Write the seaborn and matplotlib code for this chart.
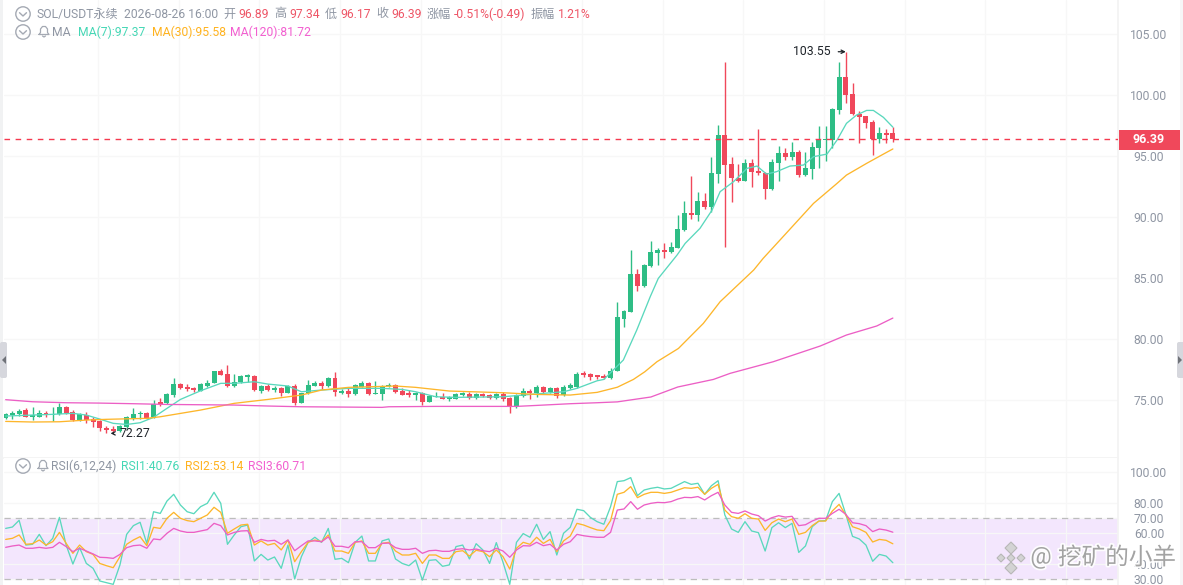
import numpy as np
import seaborn as sns
from matplotlib import pyplot as plt
from matplotlib import patheffects as pe
from matplotlib.patches import Circle, Polygon, Rectangle, FancyBboxPatch

# candles
opens = [73.50,73.77,73.83,74.18,73.63,73.63,73.91,73.74,73.83,74.45,74.02,73.36,73.77,73.42,73.31,72.68,72.60,72.46,72.76,73.50,73.83,73.96,73.58,74.84,74.73,75.44,76.31,76.09,75.98,75.76,76.15,76.42,77.38,77.13,76.15,76.50,76.91,76.99,75.76,76.15,75.82,75.96,75.60,76.15,74.78,
         75.55,76.15,76.39,76.15,76.80,75.57,75.74,75.49,76.09,76.39,75.52,75.49,76.15,76.23,75.74,75.60,75.41,75.57,74.84,75.25,75.27,75.08,75.08,75.41,75.49,75.16,75.49,75.41,75.16,75.49,75.19,74.51,75.33,75.71,75.55,76.07,75.66,75.98,75.38,75.98,76.09,77.19,77.13,77.05,
         76.97,76.80,77.40,81.67,82.24,85.33,84.34,85.98,87.08,87.30,87.13,87.49,88.93,90.33,90.19,91.28,90.85,93.52,96.72,94.32,93.17,92.98,94.43,93.77,93.58,92.32,94.43,95.25,94.95,95.33,93.44,93.96,95.68,96.28,96.31,98.77,101.48,100.08,98.47,98.28,97.79,96.42,96.86,96.89]
highs = [73.91,74.13,74.24,74.37,74.40,74.18,74.13,74.40,74.78,74.51,74.18,73.91,74.04,73.63,73.36,72.90,72.87,72.95,73.69,74.32,74.13,74.04,75.00,75.14,75.55,76.78,76.42,76.31,76.09,76.42,76.64,77.40,77.54,77.84,77.13,77.08,77.13,77.08,76.20,76.31,76.15,76.09,76.26,76.31,75.60,
         76.64,76.53,76.56,76.91,77.27,75.90,75.98,76.28,76.58,76.45,76.56,76.20,76.39,76.31,75.98,75.82,75.66,75.63,75.38,75.68,75.60,75.36,75.55,75.68,75.68,75.55,75.60,75.49,75.55,75.63,75.27,75.49,75.96,75.87,76.20,76.12,76.04,76.07,76.23,76.39,77.29,77.38,77.19,77.05,
         77.10,77.60,83.03,82.38,87.30,85.74,86.15,88.03,87.43,87.90,87.92,90.14,91.28,93.36,92.08,91.99,94.95,97.51,102.70,94.95,94.34,94.75,94.73,97.19,93.72,94.73,95.82,95.63,96.15,95.49,95.36,96.17,97.49,97.46,98.91,102.70,103.55,101.01,98.72,98.28,97.95,97.40,97.19,97.34]
lows = [73.42,73.42,73.69,73.58,73.36,73.58,73.63,73.28,73.77,73.85,73.31,73.31,73.14,72.81,72.46,72.32,72.27,72.40,72.70,73.36,73.42,73.42,73.50,74.51,74.67,75.27,75.87,75.74,75.66,75.71,76.04,76.37,77.02,76.09,76.09,76.37,76.50,75.76,75.55,75.76,75.68,75.33,75.55,74.59,74.73,
        75.49,76.12,75.87,76.09,75.33,75.52,75.27,75.41,76.04,75.44,75.46,75.00,76.09,75.60,75.38,75.27,75.00,74.59,74.81,75.22,75.05,74.95,75.05,75.33,75.11,75.11,75.27,75.08,75.11,74.95,73.91,74.37,75.27,75.11,75.27,75.60,75.57,75.16,75.33,75.93,76.01,76.86,76.64,76.69,
        76.69,76.75,77.35,80.96,82.19,83.96,84.29,85.93,86.07,86.61,87.08,87.43,88.88,89.84,89.70,90.66,90.44,92.76,87.51,91.26,92.87,92.92,92.49,93.44,91.48,92.24,92.98,94.67,94.67,93.31,93.39,93.14,93.99,94.62,95.63,98.44,99.32,98.36,96.09,97.32,95.08,96.04,96.09,96.17]
closes = [73.83,73.96,74.13,73.63,73.77,73.96,73.74,73.83,74.45,73.91,73.36,73.83,73.36,73.22,72.68,72.54,72.46,72.87,73.61,73.85,73.96,73.47,74.70,74.67,75.49,76.31,75.96,75.93,75.82,76.31,76.42,77.38,77.08,76.15,76.50,76.99,77.05,75.82,76.12,75.82,75.96,75.55,76.15,74.73,75.55,
          76.23,76.39,76.15,76.80,75.68,75.74,75.49,76.23,76.39,75.49,75.57,76.09,76.26,75.66,75.41,75.41,75.57,74.84,75.33,75.33,75.08,75.27,75.49,75.57,75.16,75.49,75.33,75.19,75.49,75.08,74.51,75.41,75.71,75.55,76.07,75.66,75.98,75.33,76.07,76.23,77.13,77.05,76.91,76.91,
          76.80,77.40,81.78,82.30,85.33,84.34,86.07,87.10,87.30,87.16,87.54,89.02,90.33,90.19,91.28,90.85,93.61,96.72,94.26,93.22,92.98,94.43,93.72,93.61,92.32,94.51,95.25,94.95,95.33,93.44,93.99,95.74,96.31,96.39,98.85,101.48,100.03,98.47,98.22,97.73,96.42,96.89,96.72,96.39]

# moving averages, sampled along the candles
ma7_x = [0,4,7,10,12,14,16,18,20,22,24,26,29,32,34,37,39,42,44,47,51,56,59,61,64,67,74,77,80,83,85,88,89,91.9,93.9,95.9,97.1,99.9,101.1,103.3,105.1,106.3,108.3,110.3,111.8,113.2,114.7,116.7,118.7,120.2,122.2,123.7,125.1,126.6,128.1,129.1,130.6,132]
ma7_y = [73.69,73.77,73.83,73.91,73.77,73.44,73.09,73.00,73.14,73.58,74.32,75.05,75.76,76.37,76.37,76.50,76.31,76.15,75.68,75.82,75.96,75.96,75.87,75.68,75.27,75.22,75.27,75.41,75.55,75.68,75.96,76.58,76.69,78.28,80.74,83.47,84.97,86.89,87.84,89.07,90.57,92.08,92.90,93.99,94.18,93.52,93.72,94.18,94.26,94.95,95.16,96.31,97.68,98.36,98.74,98.74,98.17,97.37]
ma30_x = [0,4,8,12,15,21,23,29,34,39,44,47,51,58,61,66,74,79,84,88,91,93.4,95.1,96.9,100.1,103.8,106.3,111.3,112.7,115.2,120.2,123.7,125.1,128.1,130.6,132]
ma30_y = [73.25,73.20,73.22,73.36,73.42,73.50,73.63,74.18,74.73,75.05,75.41,75.82,76.04,76.15,76.04,75.74,75.60,75.46,75.41,75.63,76.05,76.69,77.32,78.14,79.23,81.28,83.06,85.66,86.61,88.11,91.12,92.76,93.44,94.40,95.16,95.58]
ma120_x = [0,4,9,14,19,24,34,39,44,56,57,64,76,79,84,88,91,96,100,105.3,107.8,114.2,121.2,125.1,129.6,132]
ma120_y = [75.03,74.86,74.78,74.75,74.70,74.64,74.59,74.51,74.45,74.40,74.45,74.48,74.48,74.56,74.70,74.78,74.85,75.25,76.07,76.69,77.19,78.14,79.43,80.33,81.07,81.72]

rsi1 = [63.2,64.1,68.5,52.3,52.8,59.3,51.9,56.7,70.4,52.3,39.9,50.6,40.3,37.1,28.8,27.7,26.6,39.3,59.3,65.0,67.2,53.4,74.1,73.0,81.1,85.5,78.5,74.1,72.8,77.4,79.6,86.8,79.6,52.8,58.9,64.3,65.4,41.9,46.2,42.5,44.5,37.1,52.3,30.1,44.7,54.1,57.4,54.1,63.2,43.0,43.6,40.8,54.1,58.2,41.9,41.9,55.0,56.3,43.2,
        40.3,38.8,42.5,29.4,42.3,42.7,38.4,39.3,51.3,52.3,43.2,53.2,49.1,40.3,53.9,41.0,26.6,54.1,59.8,57.4,65.9,56.0,61.1,45.8,60.0,63.9,75.7,74.8,70.4,67.6,65.9,77.4,93.8,94.4,96.4,84.6,88.3,89.4,90.1,89.0,89.4,91.6,93.8,92.0,92.7,85.5,91.1,94.4,72.0,62.8,60.6,67.6,61.5,60.4,48.4,63.7,66.9,
        63.7,66.5,47.5,51.7,64.3,68.0,68.3,80.7,86.1,72.4,58.0,56.3,52.3,41.7,46.2,45.1,40.76]
rsi2 = [56.0,56.7,58.9,52.8,53.2,55.6,52.3,54.5,60.6,53.4,46.9,52.3,48.0,46.2,40.3,38.8,37.5,44.7,52.8,55.6,57.8,51.9,63.9,63.2,69.8,73.7,69.8,68.3,67.6,69.8,72.0,77.0,73.7,60.0,62.8,65.4,65.9,52.3,55.0,52.3,53.4,49.1,55.6,41.4,48.0,54.1,55.6,54.5,58.9,48.4,48.4,46.9,54.1,55.0,46.9,46.9,53.4,54.1,48.4,
        45.8,45.8,46.9,40.3,45.8,45.8,43.6,43.6,48.0,48.6,45.1,48.9,48.0,44.7,49.1,44.7,36.6,50.2,54.1,52.8,57.4,53.4,56.0,48.0,55.0,58.2,66.5,65.4,63.7,62.2,61.7,68.3,85.5,86.8,90.5,83.3,85.5,86.8,86.8,86.1,86.8,88.3,89.8,89.4,90.1,85.5,89.4,92.0,75.2,70.9,69.8,72.8,69.8,69.3,61.9,66.9,69.3,
        67.6,69.3,59.3,60.6,65.0,68.0,68.0,74.6,78.9,72.0,64.3,62.8,60.6,54.3,56.0,55.4,53.14]
rsi3 = [50.8,51.7,52.3,50.2,50.2,50.8,50.2,50.8,54.1,51.3,48.0,50.2,48.4,46.5,44.3,44.1,43.6,46.2,50.6,51.9,52.3,50.2,56.3,55.8,60.0,63.2,61.5,60.6,60.6,61.5,62.4,66.5,65.0,58.9,60.6,61.5,61.7,54.1,56.0,55.0,55.4,52.8,55.6,48.6,51.9,55.0,55.0,54.5,57.6,51.5,51.5,50.6,54.5,54.5,50.6,50.6,53.4,53.6,50.6,
        49.5,49.5,50.2,46.9,48.6,48.9,48.2,48.2,49.5,49.9,49.1,49.7,48.6,48.0,50.2,48.4,44.3,49.1,51.9,51.7,54.1,51.9,52.8,49.1,52.8,54.5,59.3,58.4,57.8,57.4,57.4,60.6,75.2,75.9,80.7,75.7,78.5,79.6,80.2,80.0,80.7,82.4,83.5,83.3,84.0,81.8,84.6,86.8,78.5,73.7,73.0,74.6,72.6,71.5,68.0,70.2,71.5,
        70.6,71.1,65.0,65.6,68.0,69.8,69.8,73.0,75.7,72.4,66.9,66.3,65.0,61.1,62.8,62.1,60.71]

price_ticks = [75, 80, 85, 90, 95, 100, 105]
rsi_ticks = [30, 40, 60, 70, 80, 100]
time_grid = [13.75, 25.75, 37.75, 49.75, 61.75, 73.75, 85.75, 97.75, 109.75, 121.75, 133.75, 145.75, 157.75]

GREEN = '#2ebd85'
RED = '#f0485b'
TEAL = '#5ad8bd'
YELLOW = '#fdb62b'
PINK = '#ec5fc5'
GREY = '#8f96a3'
GRID = '#f7f7f7'

sns.set_theme(style='white')
plt.rcParams['font.family'] = ['Roboto', 'Noto Sans CJK SC', 'DejaVu Sans']

fig = plt.figure(figsize=(11.83, 5.85), dpi=100, facecolor='white')
ax = fig.add_axes([4/1183, 127/585, 1114/1183, 458/585])
ax2 = fig.add_axes([4/1183, 0, 1114/1183, 127/585])

# candles
xs = np.arange(len(closes))
o, h, l, c = map(np.array, (opens, highs, lows, closes))
cols = np.where(c >= o, GREEN, RED)
ax.vlines(xs, l, h, colors=cols, lw=1.0, zorder=2)
ax.bar(xs, np.abs(c - o), bottom=np.minimum(o, c), width=0.74, color=cols, lw=0, zorder=3)

sns.lineplot(x=ma7_x, y=ma7_y, color=TEAL, lw=0.95, ax=ax, zorder=4)
sns.lineplot(x=ma30_x, y=ma30_y, color=YELLOW, lw=0.95, ax=ax, zorder=4)
sns.lineplot(x=ma120_x, y=ma120_y, color=PINK, lw=0.95, ax=ax, zorder=4)

ax.axhline(closes[-1], color='#f5394f', lw=1.0, ls=(0, (4, 4)), zorder=5)

imax = int(np.argmax(highs))
imin = int(np.argmin(lows))
ax.annotate(f'{highs[imax]:.2f}', xy=(imax, highs[imax]), xytext=(-15, 0), textcoords='offset pixels',
            ha='right', va='center', fontsize=8.8, color='#1e2329',
            arrowprops=dict(arrowstyle='->', color='#1e2329', lw=0.9, shrinkA=3, shrinkB=0, mutation_scale=6))
ax.annotate(f'{lows[imin]:.2f}', xy=(imin - 0.4, lows[imin]), xytext=(9, 0), textcoords='offset pixels',
            ha='left', va='center', fontsize=8.8, color='#1e2329',
            arrowprops=dict(arrowstyle='->', color='#1e2329', lw=0.9, shrinkA=2, shrinkB=0, mutation_scale=6))

ax.set_ylim(70.25, 107.79)
ax.set_yticks(price_ticks)
ax.set_yticklabels([f'{v:.2f}' for v in price_ticks])

# rsi pane
ax2.axhspan(30, 70, color='#f3e6fd', lw=0, zorder=0)
ax2.axhline(70, color='#bdbdbd', lw=0.9, ls=(0, (5, 4)), zorder=1)
ax2.axhline(30, color='#bdbdbd', lw=0.9, ls=(0, (5, 4)), zorder=1)
sns.lineplot(x=xs, y=rsi1, color=TEAL, lw=0.95, ax=ax2, zorder=3)
sns.lineplot(x=xs, y=rsi2, color=YELLOW, lw=0.95, ax=ax2, zorder=4)
sns.lineplot(x=xs, y=rsi3, color=PINK, lw=0.95, ax=ax2, zorder=5)
ax2.set_ylim(26.18, 109.24)
ax2.set_yticks(rsi_ticks)
ax2.set_yticklabels([f'{v:.2f}' for v in rsi_ticks])

for a in (ax, ax2):
    a.set_xlim(-0.25, 165.5)
    a.set_xticks(time_grid)
    a.set_xticklabels([])
    a.set_xlabel('')
    a.set_ylabel('')
    a.yaxis.tick_right()
    a.grid(True, color=GRID, lw=0.9, zorder=0)
    a.set_axisbelow(True)
    a.tick_params(axis='x', length=0)
    a.tick_params(axis='y', length=0, pad=22.3, labelsize=8.7, labelcolor=GREY)
    for lab in a.get_yticklabels():
        lab.set_ha('center')
    for s in a.spines.values():
        s.set_visible(False)
    a.spines['right'].set_visible(True)
    a.spines['right'].set_color('#f3f3f3')
ax.spines['bottom'].set_visible(True)
ax.spines['bottom'].set_color('#f3f3f3')

# overlay in pixels for header, price tag, handles and watermark
ov = fig.add_axes([0, 0, 1, 1], zorder=10)
ov.set_xlim(0, 1183)
ov.set_ylim(585, 0)
ov.axis('off')
ov.patch.set_alpha(0)


def txt(x, y, s, color=GREY, size=8.7, **kw):
    ov.text(x, y, s, color=color, fontsize=size, va='center', ha=kw.pop('ha', 'left'), **kw)


def chevron_icon(x, y):
    ov.add_patch(Circle((x, y), 7.2, fill=False, ec='#a4a9b3', lw=1.0))
    ov.plot([x - 3.5, x, x + 3.5], [y - 1.3, y + 2, y - 1.3], color='#a4a9b3', lw=1.0)


def bell(x, y):
    ov.plot([x - 5, x - 3.5, x - 3.5, x - 1.5, x + 1.5, x + 3.5, x + 3.5, x + 5, x - 5],
            [y + 3.5, y + 1.5, y - 2, y - 4.5, y - 4.5, y - 2, y + 1.5, y + 3.5, y + 3.5], color='#a4a9b3', lw=0.9)
    ov.plot([x - 1.5, x, x + 1.5], [y + 5, y + 6, y + 5], color='#a4a9b3', lw=0.9)


chevron_icon(23, 14)
txt(37, 14, 'SOL/USDT永续')
txt(124, 14, '2026-08-26 16:00')
for x_lab, lab, x_val, val in [(223, '开', 238, '96.89'), (274, '高', 289, '97.34'), (325, '低', 340, '96.17'),
                               (376, '收', 391, '96.39'), (427, '涨幅', 454, '-0.51%(-0.49)'), (531, '振幅', 558, '1.21%')]:
    txt(x_lab, 14, lab)
    txt(x_val, 14, val, color='#ee5566')

chevron_icon(23, 32)
bell(44, 31)
txt(52, 32, 'MA')
txt(78, 32, 'MA(7):97.37', color='#45d7b5')
txt(152, 32, 'MA(30):95.58', color='#ffb31f')
txt(230, 32, 'MA(120):81.72', color='#f25fd0')

chevron_icon(23, 466)
bell(43, 465)
txt(51, 466, 'RSI(6,12,24)')
txt(121, 466, 'RSI1:40.76', color='#45d7b5')
txt(185, 466, 'RSI2:53.14', color='#ffb31f')
txt(248, 466, 'RSI3:60.71', color='#f25fd0')

# current price tag
ov.add_patch(Rectangle((1119, 130), 61, 20, color=RED, lw=0))
txt(1149, 139.5, f'{closes[-1]:.2f}', color='white', size=9, ha='center', fontweight='bold')

# side strip and handles
ov.add_patch(Rectangle((0, 0), 3.5, 585, color='#f1f2f3', lw=0))
ov.add_patch(Rectangle((1180, 0), 3, 585, color='#f6f6f7', lw=0))
ov.add_patch(FancyBboxPatch((0, 342), 7, 36, boxstyle='round,pad=0,rounding_size=2', color='#d6d7dd', lw=0))
ov.add_patch(FancyBboxPatch((1177, 342), 8, 36, boxstyle='round,pad=0,rounding_size=2', color='#d6d7dd', lw=0))
ov.add_patch(Polygon([[2, 360], [6, 356], [6, 364]], color='#6f7278', lw=0))
ov.add_patch(Polygon([[1182, 360], [1178, 356], [1178, 364]], color='#6f7278', lw=0))

# watermark
halo = [pe.withStroke(linewidth=2.5, foreground='white', alpha=0.9)]
for cx, cy, r in [(1011, 558, 4), (1011, 548, 6), (1011, 568, 6), (1001, 558, 4), (1021, 558, 4)]:
    ov.add_patch(Polygon([[cx, cy - r], [cx + r, cy], [cx, cy + r], [cx - r, cy]], fc='#d2d2d2', ec='#b5b5b5', lw=0.8, alpha=0.95))
ov.text(1041, 557, '@', fontsize=17, color='#a3a3a3', ha='center', va='center', path_effects=halo)
ov.text(1058, 558, '挖矿的小羊', fontsize=17, color='#a3a3a3', ha='left', va='center', path_effects=halo)

fig.savefig('out.png', dpi=100)
